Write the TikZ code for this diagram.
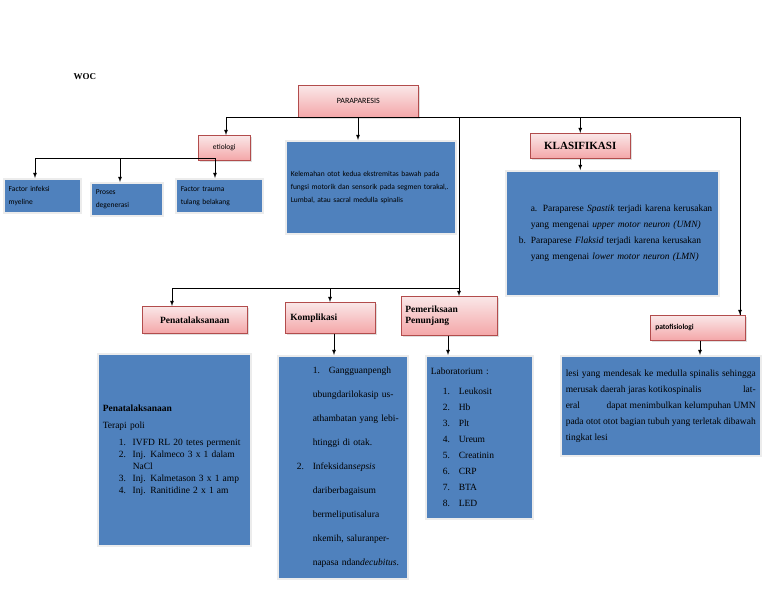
\documentclass[tikz,border=0pt]{standalone}
\usepackage{fontspec}
\setmainfont{Liberation Serif}
\newfontfamily\calib{Carlito}
\usetikzlibrary{shadows}
\definecolor{bx}{HTML}{4F81BD}
\definecolor{pk}{HTML}{F2C4C6}
\begin{document}
\begin{tikzpicture}[x=1pt,y=-1pt,
 blue/.style={draw=white!85!gray,line width=1.5pt,fill=bx,anchor=north west,inner sep=5pt,align=left,drop shadow={shadow xshift=1.5pt,shadow yshift=-1.5pt,fill=gray!60}},
 pink/.style={draw=red!40!gray,line width=0.5pt,top color=white!60!pk,bottom color=pk!85!red,anchor=north west,inner sep=0pt,drop shadow={shadow xshift=1.5pt,shadow yshift=-1.5pt,fill=gray!50}},
 ar/.style={-latex,line width=0.8pt},
 ln/.style={line width=0.8pt}]
\useasboundingbox (0,0) rectangle (768,594);
\node[font=\bfseries\fontsize{9}{10}\selectfont,anchor=west] (woc) at (70,77) {WOC};
% pink
\node[pink,minimum width=120,minimum height=32,font=\calib\fontsize{8}{9}\selectfont] (par) at (298,85) {PARAPARESIS};
\node[pink,minimum width=52,minimum height=25,font=\calib\fontsize{7.5}{9}\selectfont] (eti) at (198,135) {etiologi};
\node[pink,minimum width=100,minimum height=25,font=\bfseries\fontsize{11}{12}\selectfont] (kla) at (530,133) {KLASIFIKASI};
\node[pink,minimum width=105,minimum height=27,font=\bfseries\fontsize{9.5}{11}\selectfont] (pen) at (142,306) {Penatalaksanaan};
\node[pink,minimum width=90,minimum height=31,font=\bfseries\fontsize{9.5}{11}\selectfont,text width=80,align=left] (kom) at (285,302) {Komplikasi};
\node[pink,minimum width=96,minimum height=39,font=\bfseries\fontsize{9.5}{11}\selectfont,text width=88,align=left] (pem) at (401,296) {Pemeriksaan\\Penunjang};
\node[pink,minimum width=95,minimum height=25,font=\calib\bfseries\fontsize{7.5}{9}\selectfont,text width=85,align=left] (pat) at (650,315) {patofisiologi};
% blue
\node[blue,minimum width=77,minimum height=34,text width=67,font=\calib\fontsize{7.5}{13}\selectfont] (f1) at (3,178) {Factor infeksi\\myeline};
\node[blue,minimum width=72,minimum height=33,text width=62,font=\calib\fontsize{7.5}{13}\selectfont] (f2) at (90,182) {Proses\\degenerasi};
\node[blue,minimum width=87,minimum height=34,text width=77,font=\calib\fontsize{7.5}{13}\selectfont] (f3) at (175,178) {Factor trauma\\tulang belakang};
\node[blue,minimum width=170,minimum height=93,text width=160,font=\calib\fontsize{7.5}{13}\selectfont] (kel) at (285,140) {Kelemahan otot kedua ekstremitas bawah pada fungsi motorik dan sensorik pada segmen torakal,. Lumbal, atau sacral medulla spinalis\\[18pt]};
\node[blue,minimum width=213,minimum height=125,text width=203,font=\fontsize{9.5}{16}\selectfont] (klb) at (505,170) {\leftskip=20pt\parindent=-12pt\rightskip=0pt
\makebox[12pt][l]{a.}Paraparese \textit{Spastik} terjadi karena kerusakan yang mengenai \textit{upper motor neuron (UMN)}\par
\makebox[12pt][l]{b.}Paraparese \textit{Flaksid} terjadi karena kerusakan yang mengenai \textit{lower motor neuron (LMN)}\par};
\node[blue,minimum width=153,minimum height=192,text width=143,font=\fontsize{9.5}{12}\selectfont] (pnb) at (97,353) {\textbf{Penatalaksanaan}\\[5pt]Terapi poli\par\vspace{5pt}
{\leftskip=30pt\parindent=-14pt
\makebox[14pt][l]{1.}IVFD RL 20 tetes permenit\par
\makebox[14pt][l]{2.}Inj. Kalmeco 3 x 1 dalam NaCl\par
\makebox[14pt][l]{3.}Inj. Kalmetason 3 x 1 amp\par
\makebox[14pt][l]{4.}Inj. Ranitidine 2 x 1 am\par}\vspace{40pt}};
\node[blue,minimum width=130,minimum height=223,text width=120,font=\fontsize{9.5}{24}\selectfont] (kob) at (277,355) {{\leftskip=30pt\parindent=-16pt
\makebox[16pt][l]{1.}Gangguanpengh ubungdarilokasip usathambatan yang lebihtinggi di otak.\par
\makebox[16pt][l]{2.}Infeksidan\textit{sepsis} dariberbagaisum bermeliputisalura nkemih, saluranpernapasa ndan\textit{decubitus}.\par}};
\node[blue,minimum width=107,minimum height=163,text width=97,font=\fontsize{9.5}{16}\selectfont] (lab) at (425,355) {Laboratorium :\par\vspace{4pt}
{\leftskip=28pt\parindent=-16pt
\makebox[16pt][l]{1.}Leukosit\par\makebox[16pt][l]{2.}Hb\par\makebox[16pt][l]{3.}Plt\par\makebox[16pt][l]{4.}Ureum\par\makebox[16pt][l]{5.}Creatinin\par\makebox[16pt][l]{6.}CRP\par\makebox[16pt][l]{7.}BTA\par\makebox[16pt][l]{8.}LED\par}\vspace{8pt}};
\node[blue,minimum width=200,minimum height=100,text width=190,font=\fontsize{9.5}{16}\selectfont,align=justify] (les) at (560,355) {lesi yang mendesak ke medulla spinalis sehingga merusak daerah jaras kotikospinalis\hfill lateral\hfill dapat menimbulkan kelumpuhan UMN pada otot otot bagian tubuh yang terletak dibawah tingkat lesi};
% connector coordinates
\coordinate (h1) at (226,117);
\coordinate (h2) at (740,117);
\coordinate (v1) at (459,117);
\coordinate (v2) at (459,288);
\coordinate (h3) at (172,288);
\coordinate (hk) at (330,288);
\coordinate (hc) at (358,117);
\coordinate (e1) at (35,158);
\coordinate (e2) at (120,158);
\coordinate (e3) at (215,158);
\coordinate (xk) at (334,0);
\coordinate (xl) at (448,0);
\coordinate (xp) at (700,0);
\draw[ln] (h1) -- (h2) -- (h2 |- pat.north);
\draw[ar] (740,300) -- (h2 |- pat.north);
\draw[ar] (h1) -- (h1 |- eti.north);
\draw[ar] (hc) -- (hc |- kel.north);
\draw[ar] (kla.north |- h1) -- (kla.north);
\draw[ln] (v1) -- (v2) -- (h3);
\draw[ar] (h3) -- (h3 |- pen.north);
\draw[ar] (hk) -- (hk |- kom.north);
\draw[ar] (v2) -- (v2 |- pem.north);
\draw[ln] (e1) -- (e3);
\draw[ar] (e1) -- (e1 |- f1.north);
\draw[ar] (e2) -- (e2 |- f2.north);
\draw[ar] (e3) -- (e3 |- f3.north);
\draw[ar] (kla.south) -- (kla.south |- klb.north);
\draw[ar] (xk |- kom.south) -- (xk |- kob.north);
\draw[ar] (xl |- pem.south) -- (xl |- lab.north);
\draw[ar] (xp |- pat.south) -- (xp |- les.north);
\end{tikzpicture}
\end{document}
